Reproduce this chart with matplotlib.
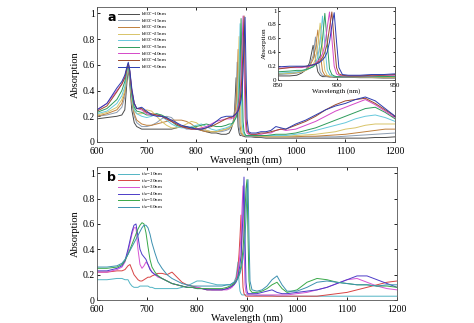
import matplotlib
matplotlib.use('Agg')
import matplotlib.pyplot as plt

plt.rcParams['font.family'] = ['Liberation Serif', 'DejaVu Serif']
plt.rcParams['mathtext.fontset'] = 'stix'

# ---------------- panel a data ----------------
wl_a = [600, 620, 640, 650, 656, 660, 663, 666, 670, 675,
        680, 690, 700, 710, 720, 730, 740, 750, 760, 770,
        780, 790, 800, 810, 820, 830, 840, 850, 860, 866,
        870, 874, 877, 880, 882, 884, 886, 888, 890, 892,
        894, 896, 898, 900, 902, 905, 910, 920, 930, 940,
        950, 960, 970, 980, 1000, 1020, 1040, 1060, 1080, 1100,
        1120, 1140, 1160, 1180, 1200]

a_10nm = [0.18, 0.19, 0.2, 0.21, 0.25, 0.45, 0.58, 0.45, 0.25, 0.15,
          0.12, 0.1, 0.1, 0.1, 0.1, 0.1, 0.1, 0.1, 0.11, 0.12,
          0.12, 0.11, 0.1, 0.09, 0.08, 0.07, 0.07, 0.06, 0.06, 0.07,
          0.1, 0.15, 0.25, 0.5, 0.3, 0.12, 0.07, 0.05, 0.05, 0.05,
          0.045, 0.045, 0.04, 0.04, 0.04, 0.04, 0.04, 0.035, 0.035, 0.03,
          0.03, 0.03, 0.03, 0.03, 0.03, 0.03, 0.03, 0.03, 0.03, 0.03,
          0.03, 0.03, 0.035, 0.035, 0.04]
a_15nm = [0.2, 0.21, 0.23, 0.27, 0.35, 0.5, 0.6, 0.5, 0.3, 0.2,
          0.15, 0.12, 0.12, 0.13, 0.15, 0.18, 0.2, 0.19, 0.15, 0.12,
          0.1, 0.1, 0.1, 0.1, 0.09, 0.08, 0.08, 0.08, 0.09, 0.1,
          0.12, 0.16, 0.22, 0.35, 0.62, 0.35, 0.12, 0.07, 0.06, 0.05,
          0.05, 0.05, 0.05, 0.05, 0.045, 0.045, 0.045, 0.04, 0.04, 0.04,
          0.04, 0.04, 0.04, 0.04, 0.04, 0.04, 0.04, 0.04, 0.04, 0.045,
          0.05, 0.055, 0.06, 0.065, 0.07]
a_20nm = [0.2, 0.22, 0.25, 0.3, 0.38, 0.52, 0.6, 0.5, 0.32, 0.22,
          0.17, 0.14, 0.13, 0.13, 0.14, 0.15, 0.16, 0.17, 0.17, 0.17,
          0.16, 0.14, 0.11, 0.09, 0.08, 0.08, 0.08, 0.09, 0.1, 0.11,
          0.12, 0.15, 0.2, 0.3, 0.45, 0.72, 0.4, 0.13, 0.07, 0.06,
          0.05, 0.05, 0.05, 0.05, 0.05, 0.05, 0.05, 0.045, 0.045, 0.04,
          0.04, 0.04, 0.04, 0.04, 0.04, 0.045, 0.045, 0.05, 0.055, 0.06,
          0.07, 0.08, 0.09, 0.1, 0.1]
a_25nm = [0.21, 0.23, 0.27, 0.33, 0.4, 0.52, 0.6, 0.5, 0.33, 0.24,
          0.22, 0.22, 0.25, 0.24, 0.2, 0.16, 0.13, 0.11, 0.11, 0.12,
          0.14, 0.16, 0.15, 0.12, 0.09, 0.08, 0.08, 0.09, 0.1, 0.11,
          0.12, 0.14, 0.17, 0.22, 0.3, 0.5, 0.82, 0.45, 0.14, 0.07,
          0.06, 0.05, 0.05, 0.05, 0.05, 0.05, 0.05, 0.05, 0.045, 0.045,
          0.045, 0.045, 0.045, 0.045, 0.05, 0.055, 0.06, 0.07, 0.08, 0.1,
          0.11, 0.13, 0.14, 0.14, 0.14]
a_30nm = [0.22, 0.24, 0.3, 0.36, 0.43, 0.54, 0.6, 0.5, 0.35, 0.25,
          0.22, 0.2, 0.19, 0.2, 0.22, 0.2, 0.17, 0.14, 0.12, 0.11,
          0.11, 0.12, 0.13, 0.14, 0.12, 0.1, 0.09, 0.1, 0.11, 0.12,
          0.13, 0.15, 0.17, 0.2, 0.25, 0.33, 0.55, 0.92, 0.5, 0.15,
          0.08, 0.06, 0.05, 0.05, 0.05, 0.05, 0.05, 0.05, 0.05, 0.05,
          0.05, 0.05, 0.05, 0.05, 0.06, 0.07, 0.09, 0.11, 0.13, 0.15,
          0.18, 0.2, 0.21, 0.19, 0.16]
a_35nm = [0.23, 0.26, 0.33, 0.4, 0.47, 0.56, 0.6, 0.52, 0.37, 0.27,
          0.24, 0.23, 0.21, 0.21, 0.22, 0.21, 0.19, 0.16, 0.13, 0.12,
          0.11, 0.11, 0.12, 0.13, 0.14, 0.13, 0.12, 0.12, 0.13, 0.14,
          0.14, 0.15, 0.17, 0.19, 0.22, 0.27, 0.35, 0.58, 0.96, 0.55,
          0.16, 0.08, 0.06, 0.05, 0.05, 0.05, 0.05, 0.05, 0.05, 0.05,
          0.055, 0.06, 0.06, 0.06, 0.07, 0.09, 0.11, 0.14, 0.17, 0.2,
          0.23, 0.26, 0.27, 0.23, 0.18]
a_40nm = [0.25, 0.3, 0.4, 0.45, 0.5, 0.57, 0.61, 0.55, 0.4, 0.3,
          0.26, 0.25, 0.22, 0.21, 0.21, 0.2, 0.18, 0.16, 0.14, 0.12,
          0.11, 0.1, 0.1, 0.11, 0.12, 0.14, 0.16, 0.17, 0.18, 0.18,
          0.18, 0.19, 0.2, 0.22, 0.24, 0.27, 0.31, 0.38, 0.5, 0.75,
          0.98, 0.6, 0.2, 0.09, 0.07, 0.06, 0.06, 0.06, 0.06, 0.07,
          0.07, 0.09, 0.1, 0.09, 0.1, 0.13, 0.16, 0.2, 0.24, 0.27,
          0.3, 0.33, 0.29, 0.24, 0.19]
a_45nm = [0.24, 0.28, 0.39, 0.45, 0.5, 0.57, 0.61, 0.55, 0.4, 0.3,
          0.26, 0.26, 0.23, 0.22, 0.21, 0.2, 0.18, 0.16, 0.14, 0.12,
          0.11, 0.1, 0.1, 0.1, 0.11, 0.12, 0.14, 0.16, 0.18, 0.19,
          0.19, 0.2, 0.21, 0.22, 0.23, 0.25, 0.28, 0.32, 0.4, 0.52,
          0.75, 0.98, 0.55, 0.18, 0.09, 0.07, 0.06, 0.06, 0.07, 0.07,
          0.08, 0.09, 0.1, 0.1, 0.13, 0.16, 0.2, 0.25, 0.29, 0.32,
          0.33, 0.34, 0.3, 0.25, 0.2]
a_50nm = [0.25, 0.3, 0.42, 0.47, 0.52, 0.58, 0.62, 0.56, 0.42, 0.3,
          0.26, 0.27, 0.24, 0.21, 0.2, 0.2, 0.19, 0.17, 0.15, 0.13,
          0.12, 0.11, 0.1, 0.1, 0.11, 0.13, 0.16, 0.19, 0.2, 0.2,
          0.2, 0.2, 0.21, 0.22, 0.23, 0.24, 0.26, 0.29, 0.33, 0.4,
          0.55, 0.78, 0.97, 0.55, 0.18, 0.08, 0.07, 0.07, 0.08, 0.08,
          0.09, 0.12, 0.11, 0.1, 0.14, 0.17, 0.21, 0.25, 0.28, 0.3,
          0.33, 0.35, 0.32, 0.26, 0.2]

labels_a = ['10nm', '15nm', '20nm', '25nm', '30nm', '35nm', '40nm', '45nm', '50nm']
series_a = [a_10nm, a_15nm, a_20nm, a_25nm, a_30nm, a_35nm, a_40nm, a_45nm, a_50nm]
colors_a = ['#4a4a4a', '#8c9cb0', '#c0803c', '#d8c468', '#66c8dc',
            '#2e9c5c', '#d448c8', '#9c4a2c', '#2c3cb0']

# ---------------- panel b data ----------------
wl_b = [600, 620, 640, 650, 656, 662, 666, 670, 674, 678,
        682, 686, 690, 694, 698, 702, 706, 710, 716, 722,
        730, 740, 750, 760, 770, 780, 790, 800, 810, 820,
        830, 840, 850, 860, 866, 870, 874, 878, 880, 882,
        884, 886, 888, 890, 892, 894, 896, 898, 900, 902,
        904, 906, 910, 920, 930, 940, 950, 960, 970, 980,
        1000, 1020, 1040, 1060, 1080, 1100, 1120, 1140, 1160, 1180,
        1200]

b_10nm = [0.16, 0.16, 0.17, 0.17, 0.16, 0.16, 0.13, 0.11, 0.1, 0.1,
          0.1, 0.11, 0.11, 0.11, 0.11, 0.11, 0.1, 0.1, 0.09, 0.09,
          0.09, 0.09, 0.09, 0.09, 0.1, 0.11, 0.13, 0.15, 0.15, 0.14,
          0.13, 0.12, 0.12, 0.12, 0.12, 0.13, 0.14, 0.18, 0.24, 0.3,
          0.15, 0.07, 0.05, 0.04, 0.04, 0.04, 0.04, 0.04, 0.04, 0.04,
          0.04, 0.04, 0.04, 0.035, 0.035, 0.035, 0.035, 0.03, 0.03, 0.03,
          0.03, 0.03, 0.03, 0.03, 0.03, 0.03, 0.03, 0.03, 0.03, 0.03,
          0.03]
b_20nm = [0.22, 0.22, 0.23, 0.23, 0.24, 0.27, 0.28, 0.24, 0.2, 0.18,
          0.16, 0.15, 0.15, 0.16, 0.17, 0.18, 0.18, 0.19, 0.2, 0.21,
          0.21, 0.2, 0.22, 0.18, 0.14, 0.12, 0.11, 0.1, 0.09, 0.08,
          0.08, 0.08, 0.08, 0.09, 0.1, 0.11, 0.13, 0.16, 0.2, 0.26,
          0.36, 0.5, 0.67, 0.3, 0.1, 0.05, 0.04, 0.03, 0.03, 0.03,
          0.03, 0.03, 0.03, 0.03, 0.03, 0.03, 0.03, 0.03, 0.03, 0.03,
          0.03, 0.03, 0.03, 0.04, 0.05, 0.06, 0.08, 0.1, 0.12, 0.14,
          0.15]
b_30nm = [0.22, 0.22, 0.24, 0.26, 0.3, 0.38, 0.45, 0.52, 0.57, 0.57,
          0.4, 0.28, 0.25, 0.27, 0.3, 0.28, 0.25, 0.22, 0.2, 0.18,
          0.17, 0.15, 0.13, 0.12, 0.11, 0.1, 0.1, 0.1, 0.09, 0.09,
          0.08, 0.08, 0.08, 0.08, 0.09, 0.1, 0.12, 0.15, 0.18, 0.22,
          0.28, 0.38, 0.52, 0.72, 0.9, 0.45, 0.12, 0.06, 0.05, 0.04,
          0.04, 0.04, 0.04, 0.04, 0.04, 0.04, 0.04, 0.04, 0.04, 0.04,
          0.05, 0.06, 0.08, 0.1, 0.13, 0.16, 0.17, 0.14, 0.11, 0.09,
          0.08]
b_40nm = [0.23, 0.23, 0.25, 0.27, 0.31, 0.4, 0.47, 0.54, 0.59, 0.6,
          0.5, 0.4, 0.36, 0.34, 0.32, 0.28, 0.24, 0.22, 0.2, 0.19,
          0.17, 0.15, 0.13, 0.12, 0.11, 0.1, 0.1, 0.09, 0.09, 0.08,
          0.08, 0.08, 0.08, 0.09, 0.1, 0.11, 0.12, 0.14, 0.16, 0.19,
          0.23, 0.28, 0.35, 0.48, 0.7, 0.97, 0.5, 0.14, 0.07, 0.05,
          0.05, 0.05, 0.05, 0.05, 0.06, 0.07, 0.08, 0.06, 0.05, 0.05,
          0.06, 0.07, 0.08, 0.1, 0.13, 0.16, 0.19, 0.19, 0.16, 0.13,
          0.1]
b_50nm = [0.25, 0.25, 0.26, 0.28, 0.31, 0.36, 0.4, 0.44, 0.48, 0.52,
          0.56, 0.59, 0.61, 0.6, 0.53, 0.42, 0.32, 0.26, 0.22, 0.19,
          0.17, 0.15, 0.13, 0.12, 0.11, 0.1, 0.1, 0.09, 0.09, 0.09,
          0.09, 0.09, 0.09, 0.1, 0.11, 0.12, 0.13, 0.15, 0.16, 0.18,
          0.2, 0.23, 0.27, 0.32, 0.4, 0.52, 0.7, 0.88, 0.95, 0.5,
          0.15, 0.08, 0.06, 0.06, 0.07, 0.09, 0.12, 0.14, 0.09, 0.06,
          0.08, 0.14, 0.17, 0.16, 0.14, 0.13, 0.12, 0.12, 0.11, 0.11,
          0.1]
b_60nm = [0.26, 0.26, 0.27, 0.29, 0.32, 0.36, 0.39, 0.42, 0.45, 0.48,
          0.51, 0.54, 0.57, 0.59, 0.59, 0.57, 0.52, 0.45, 0.37, 0.3,
          0.25, 0.2, 0.17, 0.15, 0.13, 0.12, 0.11, 0.11, 0.11, 0.11,
          0.11, 0.11, 0.11, 0.12, 0.12, 0.13, 0.14, 0.15, 0.16, 0.17,
          0.19, 0.21, 0.24, 0.28, 0.33, 0.4, 0.5, 0.65, 0.85, 0.95,
          0.5, 0.15, 0.08, 0.07, 0.08, 0.11, 0.16, 0.19, 0.12, 0.07,
          0.07, 0.1, 0.14, 0.15, 0.14, 0.13, 0.12, 0.12, 0.11, 0.12,
          0.12]

labels_b = ['10nm', '20nm', '30nm', '40nm', '50nm', '60nm']
series_b = [b_10nm, b_20nm, b_30nm, b_40nm, b_50nm, b_60nm]
colors_b = ['#52b4c4', '#d84444', '#d654d4', '#4c3cc8', '#38a848', '#3c90b0']


def style_axes(ax, size):
    ax.tick_params(direction='in', top=True, right=True, labelsize=size,
                   length=2.5, width=0.6, pad=1.5)
    ax.tick_params(axis='x', pad=3.5)
    for s in ax.spines.values():
        s.set_linewidth(0.6)
        s.set_color('#555555')


fig = plt.figure(figsize=(4.74, 3.23), dpi=100)
ax1 = fig.add_axes([0.2046, 0.5604, 0.629, 0.418])
ax2 = fig.add_axes([0.2046, 0.0712, 0.633, 0.412])

legend_kw = dict(loc='upper left', bbox_to_anchor=(0.06, 1.0), frameon=False,
                 fontsize=3.6, handlelength=4.2, labelspacing=-0.2,
                 handletextpad=0.3, borderaxespad=0.3, handleheight=0.5)

# panel a
for lab, ys, c in zip(labels_a, series_a, colors_a):
    ax1.plot(wl_a, ys, color=c, lw=0.7, label=r'h$_{\rm HOC}$=' + lab)
ax1.set_xlim(600, 1200)
ax1.set_ylim(0, 1.05)
ax1.set_xticks([600, 700, 800, 900, 1000, 1100, 1200])
ax1.set_yticks([0, 0.2, 0.4, 0.6, 0.8, 1])
ax1.set_yticklabels(['0', '0.2', '0.4', '0.6', '0.8', '1'])
ax1.set_xlabel('Wavelength (nm)', fontsize=7.5, labelpad=0)
ax1.set_ylabel('Absorption', fontsize=7.5, labelpad=2)
style_axes(ax1, 7)
ax1.text(0.035, 0.97, 'a', transform=ax1.transAxes, fontsize=9,
         fontweight='bold', family='DejaVu Sans', va='top')
ax1.legend(**legend_kw)

# inset
axi = fig.add_axes([0.5865, 0.752, 0.247, 0.226])
for ys, c in zip(series_a, colors_a):
    axi.plot(wl_a, ys, color=c, lw=0.7)
axi.set_xlim(850, 950)
axi.set_ylim(0, 1.05)
axi.set_xticks([850, 900, 950])
axi.set_yticks([0, 0.2, 0.4, 0.6, 0.8, 1])
axi.set_yticklabels(['0', '0.2', '0.4', '0.6', '0.8', '1'])
axi.set_xlabel('Wavelength (nm)', fontsize=5, labelpad=0.5)
axi.set_ylabel('Absorption', fontsize=5, labelpad=0.5)
style_axes(axi, 5)
axi.tick_params(length=1.5, pad=1)
axi.tick_params(axis='x', pad=2)

# panel b
for lab, ys, c in zip(labels_b, series_b, colors_b):
    ax2.plot(wl_b, ys, color=c, lw=0.7, label=r't$_{\rm Au}$=' + lab)
ax2.set_xlim(600, 1200)
ax2.set_ylim(0, 1.05)
ax2.set_xticks([600, 700, 800, 900, 1000, 1100, 1200])
ax2.set_yticks([0, 0.2, 0.4, 0.6, 0.8, 1])
ax2.set_yticklabels(['0', '0.2', '0.4', '0.6', '0.8', '1'])
ax2.set_xlabel('Wavelength (nm)', fontsize=7.5, labelpad=0)
ax2.set_ylabel('Absorption', fontsize=7.5, labelpad=2)
style_axes(ax2, 7)
ax2.text(0.035, 0.97, 'b', transform=ax2.transAxes, fontsize=9,
         fontweight='bold', family='DejaVu Sans', va='top')
ax2.legend(**legend_kw)

fig.savefig('out.png', dpi=100)
